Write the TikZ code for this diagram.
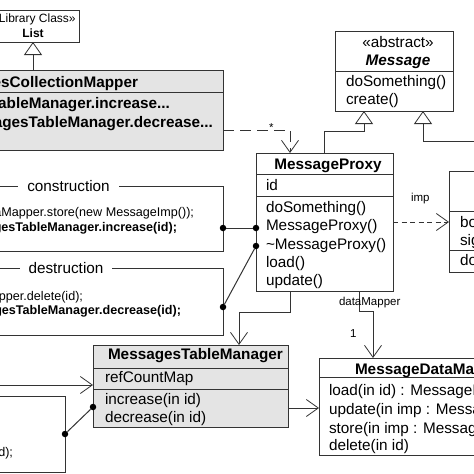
\documentclass[tikz,border=0pt]{standalone}
\usepackage{fontspec}
\setmainfont{Liberation Sans}
\usetikzlibrary{arrows.meta}
\newcommand\tzbig{\fontsize{15.3}{18}\selectfont}
\newcommand\tzsmall{\fontsize{12}{13.5}\selectfont}
\newcommand\tzframe{\fontsize{12.6}{14}\selectfont}
\newcommand\tzlab{\fontsize{11.5}{13}\selectfont}
\definecolor{ln}{HTML}{333333}
\definecolor{hatch}{HTML}{E4E4E4}
\tikzset{
 box/.style={draw=ln, line width=0.9pt, inner sep=0pt, outer sep=0pt, anchor=north west},
 hbox/.style={box, fill=hatch},
 div/.style={draw=ln, line width=0.9pt},
 txt/.style={inner sep=0pt, outer sep=0pt, anchor=base west, font=\tzbig},
 txte/.style={txt, anchor=base east},
 ctr/.style={inner sep=0pt, outer sep=0pt, anchor=base, font=\tzbig},
 lab/.style={inner sep=0pt, outer sep=0pt, anchor=base west, font=\tzlab},
 conn/.style={draw=ln, line width=0.8pt},
 barb/.style={conn, -{Straight Barb[length=12pt,width=17pt,line width=0.8pt]}},
 gen/.style={conn, -{Triangle[fill=white, length=13pt, width=18pt, line width=0.8pt]}},
 dotn/.style={circle, fill=black, inner sep=0pt, minimum size=6.5pt},
 frametitle/.style={fill=white, inner xsep=9pt, inner ysep=2pt, font=\tzbig},
}
\begin{document}
\begin{tikzpicture}[x=1pt,y=-1pt]
\useasboundingbox (0,0) rectangle (474,474);
\clip (0,0) rectangle (474,474);
\fill[white] (0,0) rectangle (474,474);

% Library class List
\node[box, minimum width=139pt, minimum height=32pt] (lib) at (-60,10) {};
\node[ctr, font=\tzsmall] (libst) at (34,22) {«Library Class»};
\node[ctr, font=\tzsmall\bfseries] (libn) at (33,37) {List};

% MessagesCollectionMapper
\node[hbox, minimum width=373pt, minimum height=80pt] (cm) at (-150,70) {};
\draw[div] (-150,92) -- (223,92);
\node[txte, font=\tzbig\bfseries] (cmn) at (138,87) {MessagesCollectionMapper};
\node[txte, font=\tzbig\bfseries] (cm1) at (170,108) {messagesTableManager.increase...};
\node[txte, font=\tzbig\bfseries] (cm2) at (213,127) {messagesTableManager.decrease...};

% Message
\node[box, minimum width=118pt, minimum height=80pt] (msg) at (335,31) {};
\draw[div] (335,71) -- (453,71);
\node[ctr] (msgst) at (398,47) {«abstract»};
\node[ctr, font=\tzbig\bfseries\itshape] (msgn) at (398,65.5) {Message};
\node[txt] (msg1) at (346,86) {doSomething()};
\node[txt] (msg2) at (346,104) {create()};

% MessageProxy
\node[box, minimum width=137pt, minimum height=138pt] (mp) at (256,153) {};
\draw[div] (256,174) -- (393,174);
\draw[div] (256,196) -- (393,196);
\node[ctr, font=\tzbig\bfseries] (mpn) at (328,169.5) {MessageProxy};
\node[txt] (mpa) at (266,190) {id};
\node[txt] (mp1) at (266,212) {doSomething()};
\node[txt] (mp2) at (266,230) {MessageProxy()};
\node[txt] (mp3) at (266,249) {\char`\~MessageProxy()};
\node[txt] (mp4) at (266,267) {load()};
\node[txt] (mp5) at (266,285) {update()};

% right partial box
\node[box, minimum width=80pt, minimum height=101pt] (rb) at (449,171) {};
\draw[div] (449,211) -- (529,211);
\draw[div] (449,250) -- (529,250);
\node[txt] (rb1) at (460,227) {body};
\node[txt] (rb2) at (460,245) {signature};
\node[txt] (rb3) at (460,265) {doSomething()};

% MessagesTableManager
\node[hbox, minimum width=195pt, minimum height=82pt] (tm) at (93,345) {};
\draw[div] (93,368) -- (288,368);
\draw[div] (93,389) -- (288,389);
\node[txt, font=\tzbig\bfseries] (tmn) at (108,359) {MessagesTableManager};
\node[txt] (tma) at (105,382) {refCountMap};
\node[txt] (tm1) at (105,404) {increase(in id)};
\node[txt] (tm2) at (105,422) {decrease(in id)};

% MessageDataMapper
\node[box, minimum width=180pt, minimum height=97pt] (dm) at (319,358) {};
\draw[div] (319,377) -- (499,377);
\node[txt, font=\tzbig\bfseries] (dmn) at (355,374) {MessageDataMapper};
\node[txt] (dm1) at (329,395) {load(in id) : MessageImp};
\node[txt] (dm2) at (329,414) {update(in imp : MessageImp)};
\node[txt] (dm3) at (329,433) {store(in imp : MessageImp)};
\node[txt] (dm4) at (329,450) {delete(in id)};

% construction frame
\node[box, minimum width=323pt, minimum height=65pt] (con) at (-100,186) {};
\node[frametitle] (cont) at (68.5,186) {construction};
\node[txte, font=\tzframe] (con1) at (194,216.5) {dataMapper.store(new MessageImp());};
\node[txte, font=\tzframe\bfseries] (con2) at (177,231) {messagesTableManager.increase(id);};

% destruction frame
\node[box, minimum width=323pt, minimum height=67pt] (des) at (-100,268) {};
\node[frametitle] (dest) at (66,268) {destruction};
\node[txte, font=\tzframe] (des1) at (83,300) {dataMapper.delete(id);};
\node[txte, font=\tzframe\bfseries] (des2) at (181,314) {messagesTableManager.decrease(id);};

% lower-left frame
\node[box, minimum width=165pt, minimum height=76pt] (llf) at (-100,396) {};
\node[txte, font=\tzframe] (llt) at (13,456) {update(id);};

% coordinates for connectors
\coordinate (libB) at (33,42);
\coordinate (cmT) at (33,70);
\coordinate (cmE) at (223,130);
\coordinate (mpT1) at (290,153);
\coordinate (mpT2) at (324,153);
\coordinate (msgB1) at (364,111);
\coordinate (msgB2) at (423,111);
\coordinate (rOut) at (480,141);
\coordinate (mpR) at (393,222);
\coordinate (rbL) at (449,222);
\coordinate (mpB1) at (290,291);
\coordinate (tmT) at (239,345);
\coordinate (mpB2) at (359,291);
\coordinate (dmT) at (373,358);
\coordinate (tmE) at (288,408);
\coordinate (dmW) at (319,408);
\coordinate (lOut) at (-5,385);
\coordinate (tmW) at (93,385);

% generalizations
\draw[gen] (cmT) -- (libB);
\draw[gen] (mpT2) -- (324,131) -- (364,131) -- (msgB1);
\draw[gen] (rOut) -- (423,141) -- (msgB2);

% associations
\draw[barb, dash pattern=on 11pt off 6pt] (cmE) -| (mpT1);
\node[lab] (star) at (269,131) {*};
\draw[barb, dash pattern=on 5pt off 3.5pt] (mpR) -- (rbL);
\node[lab] (imp) at (411,201) {imp};
\draw[barb] (mpB1) -- (290,312) -| (tmT);
\draw[barb] (mpB2) -- (359,311) -| (dmT);
\node[lab] (dml) at (339,305) {dataMapper};
\node[lab] (one) at (350,337) {1};
\draw[barb] (tmE) -- (dmW);
\draw[barb] (lOut) -- (tmW);

% note links
\node[dotn] (d1) at (223,228) {};
\node[dotn] (d2) at (256,228) {};
\node[dotn] (d3) at (223,307) {};
\node[dotn] (d4) at (256,246) {};
\node[dotn] (d5) at (65,434) {};
\node[dotn] (d6) at (93,407) {};
\draw[conn, line width=1pt] (d1) -- (d2);
\draw[conn, line width=1pt] (d3) -- (d4);
\draw[conn, line width=1pt] (d5) -- (d6);
\end{tikzpicture}
\end{document}
